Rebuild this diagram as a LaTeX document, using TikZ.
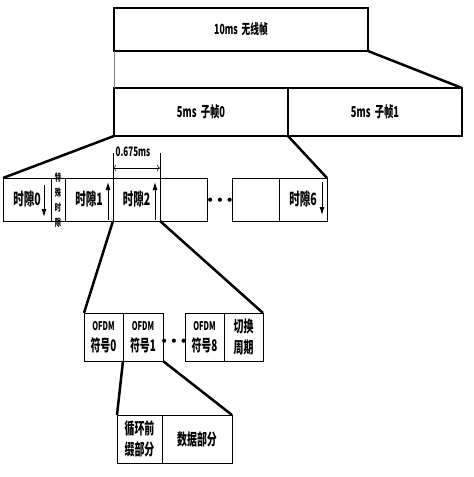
\documentclass[tikz,border=0pt]{standalone}
\usepackage{fontspec}
\newfontfamily\cjk[FakeStretch=0.62]{Noto Sans CJK SC}
\newcommand\ofdmsize{\fontsize{12}{12}\selectfont}
\newcommand\threedots{\textbullet\kern-2.5pt\textbullet\kern-2.5pt\textbullet}
\usetikzlibrary{positioning,arrows.meta}

\begin{document}
\begin{tikzpicture}[x=1pt,y=-1pt,
    box/.style={draw, outer sep=0pt, inner sep=0pt, align=center,
      font=\cjk\bfseries\fontsize{16}{21}\selectfont},
    frame/.style={box, line width=2.6pt, minimum height=43pt},
    sub/.style={box, line width=1.8pt, minimum width=174pt, minimum height=48pt,
      font=\cjk\bfseries\fontsize{15}{17}\selectfont},
    slot/.style={box, line width=0.8pt, minimum width=48pt, minimum height=43pt,
      font=\cjk\bfseries\fontsize{17}{19}\selectfont},
    sym/.style={box, line width=0.8pt, minimum width=39pt, minimum height=48pt},
    link/.style={line width=2.5pt},
    dir/.style={line width=0.9pt, -{Latex[length=8pt,width=5pt]}},
    dots/.style={font=\bfseries\fontsize{14}{14}\selectfont, inner sep=0pt}]
  \useasboundingbox (0,0) rectangle (474,477);

  % radio frame and the two half frames
  \node [frame, minimum width=254pt, font=\cjk\bfseries\fontsize{14}{16}\selectfont]
    (radio) at (241,29.5) {10ms\ \ 无线帧};
  \node [sub] (sub0) at (201,112) {5ms\ \ 子帧0};
  \node [sub, right=0pt of sub0] (sub1) {5ms\ \ 子帧1};
  \draw [line width=0.6pt, gray] (radio.south west) -- (sub0.north west);
  \draw [link] (radio.south east) -- (sub1.north east);

  % time slots of one half frame
  \node [slot] (ts0) at (27,199.5) {时隙0};
  \node [slot, minimum width=14pt, right=0pt of ts0] (gap) {};
  \node [font=\cjk\bfseries\fontsize{10}{15}\selectfont, align=center, inner sep=0pt]
    (gaptext) at (58,200) {特\\殊\\时\\隙};
  \node [slot, right=0pt of gap] (ts1) {时隙1};
  \node [slot, minimum width=47pt, right=0pt of ts1] (ts2) {时隙2};
  \node [slot, minimum width=47pt, right=0pt of ts2] (ts3) {};
  \node [dots] (tdots) at (220,201) {\threedots};
  \node [slot, minimum width=47pt] (ts5) at (255.5,199.5) {};
  \node [slot, right=0pt of ts5] (ts6) {时隙6};

  \draw [dir] ([xshift=-7pt,yshift=-7pt]ts0.north east)
    -- ([xshift=-7pt,yshift=4pt]ts0.south east);
  \draw [dir] ([xshift=-5pt,yshift=1pt]ts1.south east)
    -- ([xshift=-5pt,yshift=-4pt]ts1.north east);
  \draw [dir] ([xshift=-5pt,yshift=1pt]ts2.south east)
    -- ([xshift=-5pt,yshift=-4pt]ts2.north east);
  \draw [dir] ([xshift=-5pt,yshift=-4pt]ts6.north east)
    -- ([xshift=-5pt,yshift=6pt]ts6.south east);

  % slot length
  \coordinate (dimL) at ([yshift=25pt]ts2.north west);
  \coordinate (dimR) at ([yshift=25pt]ts2.north east);
  \draw [line width=0.6pt] (ts2.north west) -- (dimL)
        (ts2.north east) -- (dimR);
  \draw [line width=0.6pt, <->] ([yshift=10pt]ts2.north west)
    -- ([yshift=10pt]ts2.north east);
  \node [font=\cjk\bfseries\fontsize{13}{15}\selectfont, inner sep=0pt]
    (dimlabel) at (133,152) {0.675ms};

  \draw [link] (sub0.south west) -- (ts0.north west);
  \draw [link] (sub1.south west) -- (ts6.north east);

  % OFDM symbols of one slot
  \node [sym] (sym0) at (103.5,337) {{\ofdmsize OFDM}\\符号0};
  \node [sym, minimum width=40pt, right=0pt of sym0] (sym1) {{\ofdmsize OFDM}\\符号1};
  \node [dots] (sdots) at (174,342) {\threedots};
  \node [sym] (sym8) at (204.5,337) {{\ofdmsize OFDM}\\符号8};
  \node [sym, right=0pt of sym8] (guard) {切换\\周期};
  \draw [link] (ts2.south west) -- (sym0.north west);
  \draw [link] (ts2.south east) -- (guard.north east);

  % parts of one symbol
  \node [sym, minimum width=45pt] (cp) at (139.5,439) {循环前\\缀部分};
  \node [sym, minimum width=70pt, right=0pt of cp] (data) {数据部分};
  \draw [link] (sym1.south west) -- (cp.north west);
  \draw [link] (sym1.south east) -- (data.north east);
\end{tikzpicture}
\end{document}
